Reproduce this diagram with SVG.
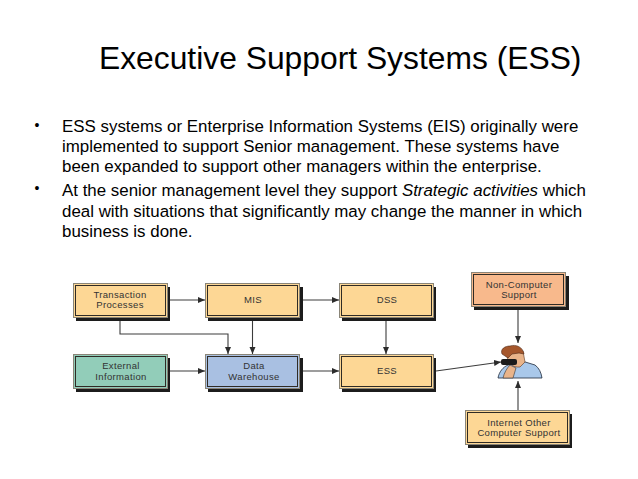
<svg xmlns="http://www.w3.org/2000/svg" width="638" height="479" viewBox="0 0 638 479">
<style>
text{font-family:"Liberation Sans",Arial,sans-serif;fill:#000}
.t{font-size:31.800px}
.b{font-size:16.900px}
.p{font-size:14px}
.l{font-size:9.500px;letter-spacing:.35px;fill:#333;text-anchor:middle}
.sh{fill:#1c1c1c}
.o{stroke:#8a8578;stroke-width:1}
.i{fill:none;stroke:#2f2b25;stroke-width:1}
.c{fill:none;stroke:#3c3c3c;stroke-width:1.1;marker-end:url(#a)}
.y{fill:#fdd795}.g{fill:#92cdb9}.u{fill:#a9c0e2}.r{fill:#f8b98c}
</style>
<defs>
<marker id="a" markerUnits="userSpaceOnUse" markerWidth="8" markerHeight="7" refX="7" refY="3" orient="auto"><path d="M0 0L7 3L0 6z" fill="#2c2c2c"/></marker>
</defs>
<rect width="638" height="479" fill="#fff"/>
<g id="title"><text class="t" x="99" y="69">Executive Support Systems (ESS)</text></g>
<g id="body">
<text class="p" x="34.500" y="130">•</text>
<text class="b" x="62" y="132">ESS systems or Enterprise Information Systems (EIS) originally were</text>
<text class="b" x="62" y="152">implemented to support Senior management. These systems have</text>
<text class="b" x="62" y="172">been expanded to support other managers within the enterprise.</text>
<text class="p" x="34.500" y="193">•</text>
<text class="b" x="62" y="196">At the senior management level they support <tspan font-style="italic">Strategic activities</tspan> which</text>
<text class="b" x="62" y="217">deal with situations that significantly may change the manner in which</text>
<text class="b" x="62" y="237">business is done.</text>
</g>
<g id="connectors">
<path class="c" d="M170 300H205"/>
<path class="c" d="M303 300H339"/>
<path class="c" d="M120 320V334H228V354"/>
<path class="c" d="M252.500 320V354"/>
<path class="c" d="M386 320V354"/>
<path class="c" d="M170 371H205"/>
<path class="c" d="M303 371H339"/>
<path class="c" d="M436 371L501 362"/>
<path class="c" d="M518 310V343"/>
<path class="c" d="M518 410V381"/>
</g>
<g id="transaction"><rect class="sh" x="76" y="287" width="94" height="34"/><rect class="y o" x="73.500" y="283.500" width="94" height="34"/><rect class="i" x="75.500" y="285.500" width="90" height="30"/><text class="l" x="120" y="297.500">Transaction</text><text class="l" x="120" y="307.500">Processes</text></g>
<g id="mis"><rect class="sh" x="208" y="287" width="95" height="34"/><rect class="y o" x="205.500" y="283.500" width="94" height="34"/><rect class="i" x="207.500" y="285.500" width="90" height="30"/><text class="l" x="253" y="303">MIS</text></g>
<g id="dss"><rect class="sh" x="342" y="287" width="94" height="34"/><rect class="y o" x="339.500" y="283.500" width="94" height="34"/><rect class="i" x="341.500" y="285.500" width="90" height="30"/><text class="l" x="387" y="303">DSS</text></g>
<g id="external"><rect class="sh" x="76" y="358" width="94" height="34"/><rect class="g o" x="73.500" y="354.500" width="94" height="34"/><rect class="i" x="75.500" y="356.500" width="90" height="30"/><text class="l" x="121" y="369">External</text><text class="l" x="121" y="379.500">Information</text></g>
<g id="warehouse"><rect class="sh" x="208" y="358" width="95" height="34"/><rect class="u o" x="205.500" y="354.500" width="94" height="34"/><rect class="i" x="207.500" y="356.500" width="90" height="30"/><text class="l" x="254" y="369">Data</text><text class="l" x="254" y="379.500">Warehouse</text></g>
<g id="ess"><rect class="sh" x="342" y="358" width="94" height="34"/><rect class="y o" x="339.500" y="354.500" width="94" height="34"/><rect class="i" x="341.500" y="356.500" width="90" height="30"/><text class="l" x="387" y="374">ESS</text></g>
<g id="noncomputer"><rect class="sh" x="474" y="276" width="95" height="34"/><rect class="r o" x="471.500" y="272.500" width="94" height="34"/><rect class="i" x="473.500" y="274.500" width="90" height="30"/><text class="l" x="519" y="288">Non-Computer</text><text class="l" x="519" y="298">Support</text></g>
<g id="internet"><rect class="sh" x="468" y="414" width="104" height="34"/><rect class="y o" x="465.500" y="410.500" width="104" height="34"/><rect class="i" x="467.500" y="412.500" width="100" height="30"/><text class="l" x="519" y="425.500">Internet Other</text><text class="l" x="519" y="435.500">Computer Support</text></g>
<g id="person">
<path d="M498 378C499 372 503 367 508 365L522 361L535 365C539 368 541 372 542 378Z" fill="#a9c8ea" stroke="#1e2a3a" stroke-width=".8"/>
<path d="M507 354C507 362 512 368 520 367L525 362L523 351H509Z" fill="#e9b48a" stroke="#5a3520" stroke-width=".6"/>
<path d="M502 354C500 349 505 346 510 346C516 344 523 347 524 354L519 353L512 354L508 358Z" fill="#a5572c" stroke="#4f2815" stroke-width=".6"/>
<rect x="501" y="359" width="16" height="6" rx="2" fill="#1b1b1b"/>
<path d="M503 378C504 373 507 368 510 365L516 368L513 378Z" fill="#e9b48a" stroke="#333" stroke-width=".6"/>
</g>
</svg>
